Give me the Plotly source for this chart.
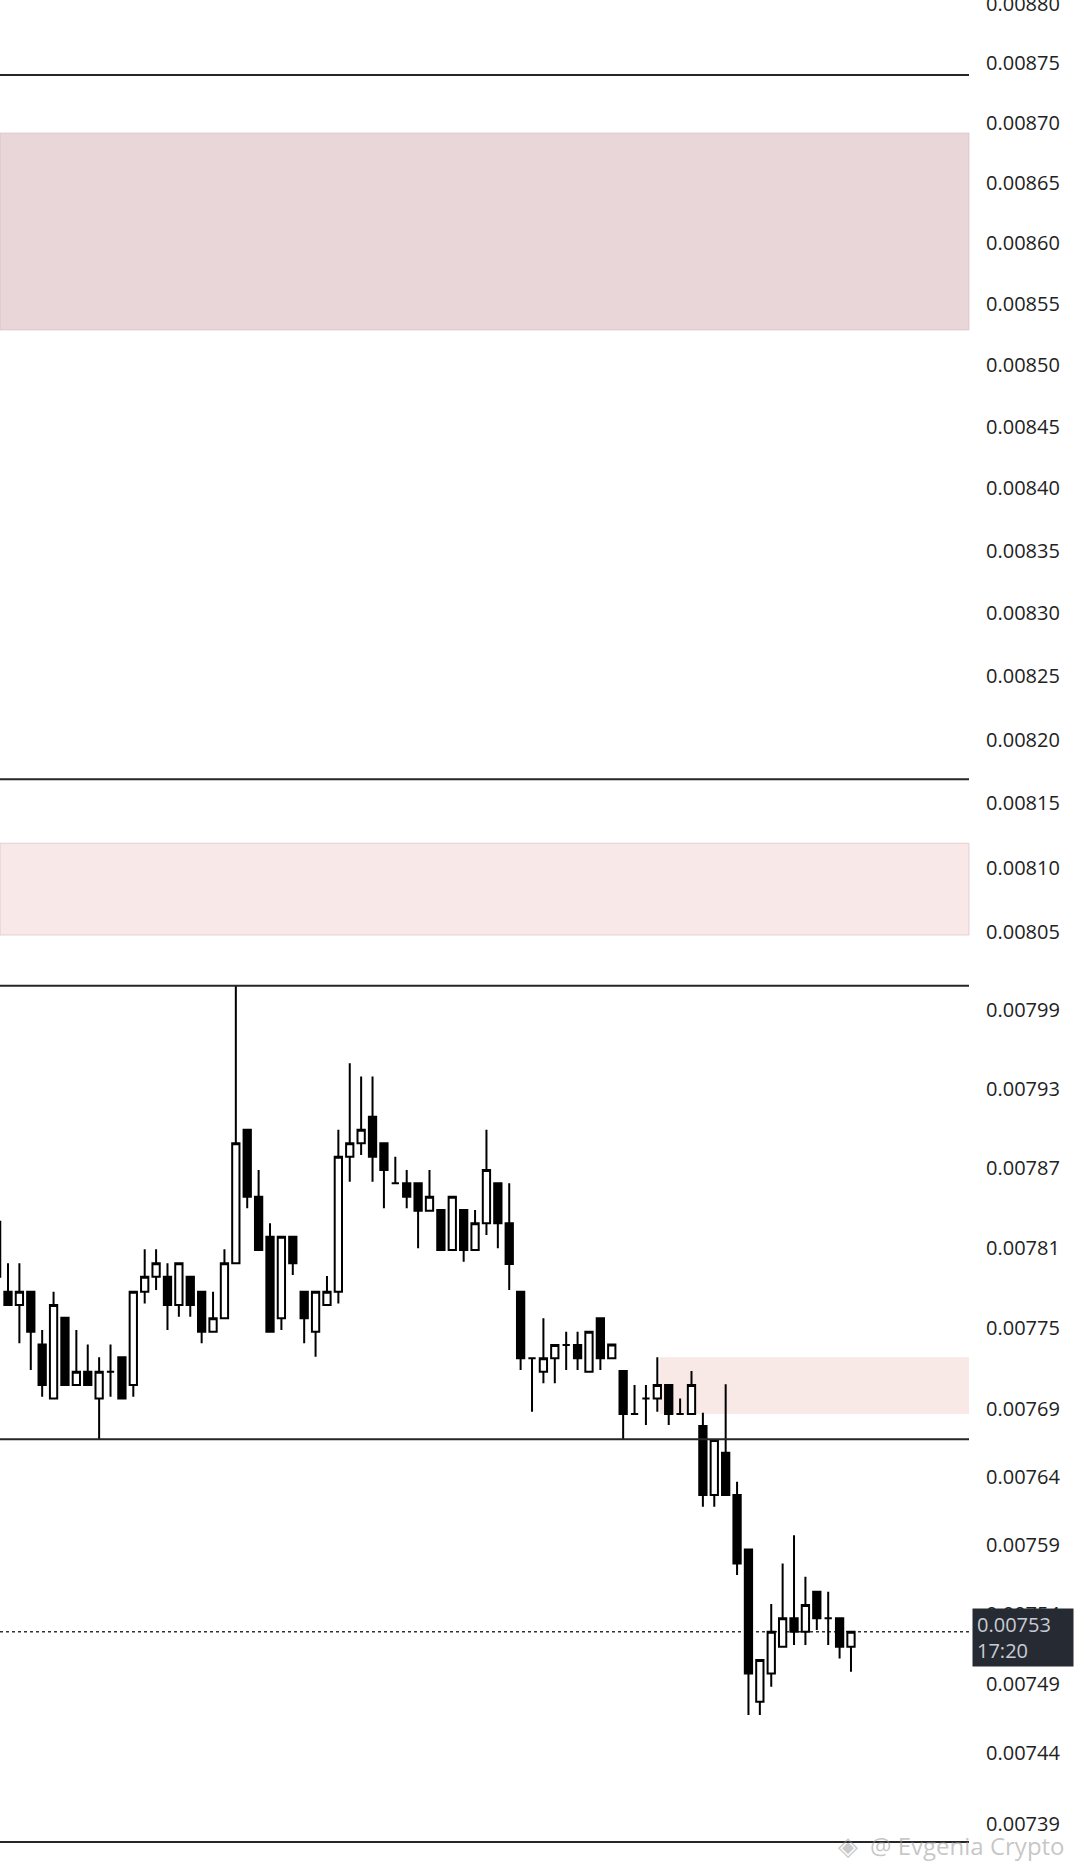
import math
import plotly.graph_objects as go

# candle index (bar number on the time axis)
bars = list(range(76))

opens = [0.0078294, 0.0077770, 0.0077671, 0.0077770, 0.0077378, 0.0076978, 0.0077576, 0.0077077, 0.0077175, 0.0076978,
         0.0077175, 0.0077282, 0.0077077, 0.0077770, 0.0077882, 0.0077882, 0.0077671, 0.0077882, 0.0077770, 0.0077472,
         0.0077572, 0.0077983, 0.0078987, 0.0078482, 0.0078182, 0.0077572, 0.0078182, 0.0077770, 0.0077472, 0.0077671,
         0.0077770, 0.0078784, 0.0078886, 0.0079087, 0.0078886, 0.0078583, 0.0078583, 0.0078583, 0.0078377, 0.0078382,
         0.0078082, 0.0078382, 0.0078082, 0.0078282, 0.0078583, 0.0078282, 0.0077770, 0.0077275, 0.0077175, 0.0077275,
         0.0077373, 0.0077373, 0.0077175, 0.0077572, 0.0077275, 0.0077180, 0.0076863, 0.0076978, 0.0076978, 0.0077077,
         0.0076863, 0.0076863, 0.0076775, 0.0076268, 0.0076578, 0.0076268, 0.0075871, 0.0074771, 0.0074974, 0.0075166,
         0.0075371, 0.0075274, 0.0075563, 0.0075371, 0.0075371, 0.0075166]
highs = [0.0078294, 0.0077983, 0.0077983, 0.0077770, 0.0077485, 0.0077770, 0.0077576, 0.0077485, 0.0077378, 0.0077282,
         0.0077378, 0.0077282, 0.0077770, 0.0078087, 0.0078087, 0.0077983, 0.0077983, 0.0077882, 0.0077770, 0.0077770,
         0.0078087, 0.0080087, 0.0078987, 0.0078684, 0.0078282, 0.0078182, 0.0078182, 0.0077770, 0.0077770, 0.0077887,
         0.0078987, 0.0079494, 0.0079392, 0.0079392, 0.0078886, 0.0078784, 0.0078684, 0.0078583, 0.0078684, 0.0078382,
         0.0078482, 0.0078382, 0.0078382, 0.0078987, 0.0078583, 0.0078583, 0.0077770, 0.0077275, 0.0077572, 0.0077373,
         0.0077472, 0.0077472, 0.0077472, 0.0077572, 0.0077378, 0.0077180, 0.0077077, 0.0077077, 0.0077282, 0.0077077,
         0.0076978, 0.0077180, 0.0076873, 0.0076672, 0.0077082, 0.0076365, 0.0075871, 0.0075070, 0.0075474, 0.0075769,
         0.0075975, 0.0075672, 0.0075563, 0.0075563, 0.0075371, 0.0075274]
lows = [0.0077882, 0.0077671, 0.0077386, 0.0077188, 0.0076990, 0.0076978, 0.0077077, 0.0077077, 0.0077077, 0.0076677,
        0.0076990, 0.0076978, 0.0076990, 0.0077683, 0.0077782, 0.0077485, 0.0077584, 0.0077584, 0.0077386, 0.0077472,
        0.0077572, 0.0077983, 0.0078395, 0.0078082, 0.0077472, 0.0077485, 0.0077895, 0.0077386, 0.0077286, 0.0077671,
        0.0077683, 0.0078595, 0.0078797, 0.0078595, 0.0078395, 0.0078583, 0.0078395, 0.0078095, 0.0078377, 0.0078082,
        0.0078082, 0.0077994, 0.0078082, 0.0078195, 0.0078095, 0.0077783, 0.0077188, 0.0076880, 0.0077090, 0.0077090,
        0.0077188, 0.0077188, 0.0077175, 0.0077188, 0.0077275, 0.0076677, 0.0076863, 0.0076782, 0.0076880, 0.0076782,
        0.0076863, 0.0076863, 0.0076182, 0.0076182, 0.0076268, 0.0075685, 0.0074676, 0.0074676, 0.0074878, 0.0075166,
        0.0075178, 0.0075178, 0.0075286, 0.0075178, 0.0075082, 0.0074986]
closes = [0.0077882, 0.0077671, 0.0077770, 0.0077472, 0.0077077, 0.0077671, 0.0077077, 0.0077175, 0.0077077, 0.0077175,
          0.0077175, 0.0076978, 0.0077770, 0.0077882, 0.0077983, 0.0077671, 0.0077983, 0.0077671, 0.0077472, 0.0077572,
          0.0077983, 0.0078886, 0.0078482, 0.0078082, 0.0077472, 0.0078182, 0.0077983, 0.0077572, 0.0077770, 0.0077770,
          0.0078784, 0.0078886, 0.0078987, 0.0078784, 0.0078684, 0.0078583, 0.0078482, 0.0078377, 0.0078482, 0.0078082,
          0.0078482, 0.0078082, 0.0078282, 0.0078684, 0.0078282, 0.0077977, 0.0077275, 0.0077275, 0.0077275, 0.0077373,
          0.0077373, 0.0077275, 0.0077472, 0.0077275, 0.0077378, 0.0076863, 0.0076863, 0.0076978, 0.0077077, 0.0076863,
          0.0076863, 0.0077077, 0.0076268, 0.0076672, 0.0076268, 0.0075769, 0.0074974, 0.0075070, 0.0075274, 0.0075371,
          0.0075274, 0.0075467, 0.0075371, 0.0075371, 0.0075166, 0.0075274]

# horizontal levels and zones (prices)
level_lines = [0.0087399, 0.0081689, 0.0080087, 0.0076677, 0.0073771]
zones = [(0.0085287, 0.0086914), (0.0080477, 0.0081189)]
zone_colors = ["rgba(226,200,203,0.75)", "rgba(246,226,224,0.75)"]
zone3 = (0.0076863, 0.0077282)
zone3_start_bar = 58.2

tick_labels = ["0.00880", "0.00875", "0.00870", "0.00865", "0.00860", "0.00855", "0.00850", "0.00845",
               "0.00840", "0.00835", "0.00830", "0.00825", "0.00820", "0.00815", "0.00810", "0.00805",
               "0.00799", "0.00793", "0.00787", "0.00781", "0.00775", "0.00769", "0.00764", "0.00759",
               "0.00754", "0.00749", "0.00744", "0.00739"]
tick_values = [float(t) for t in tick_labels]

price_low, price_high = 0.0073566, 0.0088030
bar_range = [0.2978, 85.36]

last_price_label = "0.00753"
countdown_label = "17:20"
watermark = "@ Evgenia Crypto"

fig = go.Figure()
fig.add_trace(go.Candlestick(
    x=bars, open=opens, high=highs, low=lows, close=closes,
    increasing=dict(line=dict(color="#000000", width=2), fillcolor="#ffffff"),
    decreasing=dict(line=dict(color="#000000", width=2), fillcolor="#000000"),
    whiskerwidth=0, showlegend=False, hoverinfo="skip",
))

shapes = []
for (lo, hi), col in zip(zones, zone_colors):
    shapes.append(dict(type="rect", xref="paper", x0=0, x1=1, yref="y", y0=lo, y1=hi,
                       fillcolor=col, line=dict(color="rgba(215,185,188,0.6)", width=1), layer="below"))
shapes.append(dict(type="rect", xref="x", x0=zone3_start_bar, x1=bar_range[1] + 5, yref="y",
                   y0=zone3[0], y1=zone3[1], fillcolor="rgba(246,226,224,0.8)",
                   line=dict(width=0), layer="below"))
for lv in level_lines:
    shapes.append(dict(type="line", xref="paper", x0=0, x1=1, yref="y", y0=lv, y1=lv,
                       line=dict(color="#262626", width=2), layer="above"))
shapes.append(dict(type="line", xref="paper", x0=0, x1=1, yref="y", y0=closes[-1], y1=closes[-1],
                   line=dict(color="#333333", width=1.5, dash="dot"), layer="below"))

annotations = [
    dict(xref="paper", x=1.0031, xanchor="left", yref="y", y=math.log10(closes[-1]) - 0.00022,
         yanchor="middle", text=last_price_label + "<br>" + countdown_label, showarrow=False, align="left",
         font=dict(family="Open Sans, Noto Sans, sans-serif", size=20, color="#c9ccd3"),
         bgcolor="#262a33", borderpad=4, width=92, height=49),
    dict(xref="paper", x=1.101, xanchor="right", yref="paper", y=0.0135, yanchor="middle",
         text=watermark, showarrow=False,
         font=dict(family="Open Sans, Noto Sans, sans-serif", size=24, color="rgba(150,150,150,0.55)")),
    dict(xref="paper", x=0.875, xanchor="center", yref="paper", y=0.0135, yanchor="middle",
         text="◈", showarrow=False,
         font=dict(family="DejaVu Sans", size=26, color="rgba(150,150,150,0.5)")),
]

fig.update_layout(
    width=1080, height=1871,
    margin=dict(l=0, r=111, t=0, b=0),
    paper_bgcolor="#ffffff", plot_bgcolor="#ffffff",
    boxgap=0.36, boxgroupgap=0,
    shapes=shapes, annotations=annotations,
    showlegend=False,
    xaxis=dict(range=bar_range, visible=False, rangeslider=dict(visible=False), showgrid=False),
    yaxis=dict(type="log", range=[math.log10(price_low), math.log10(price_high)], side="right",
               tickmode="array", tickvals=tick_values, ticktext=tick_labels,
               showgrid=False, zeroline=False, showline=False, ticks="",
               ticklabelstandoff=16, ticklabeloverflow="allow", automargin=False,
               tickfont=dict(family="Open Sans, Noto Sans, sans-serif", size=20, color="#222222")),
)

fig.write_html("out.html",
               config={"displayModeBar": False},
               post_script="document.body.style.margin='0';document.body.style.padding='0';"
                           "document.body.style.overflow='hidden';")
